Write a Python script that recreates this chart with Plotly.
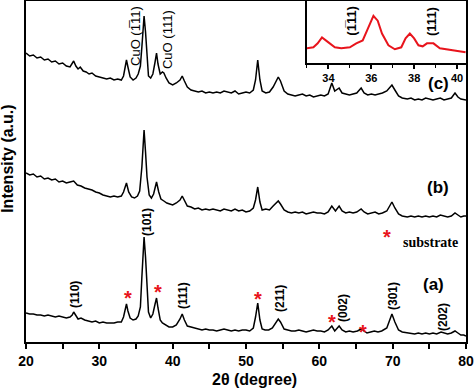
import plotly.graph_objects as go

# ---------------- data ----------------
# pattern (c)
c_x = [20.0,20.5,21.0,21.5,22.0,22.5,23.0,23.5,24.0,24.5,25.0,25.5,26.0,26.3,26.5,26.8,27.1,27.4,27.8,28.2,
       28.6,29.0,29.5,30.0,30.5,31.0,31.5,32.0,32.5,33.0,33.3,33.5,33.7,33.9,34.2,34.6,35.0,35.3,35.6,35.8,
       36.0,36.1,36.3,36.5,36.7,37.0,37.3,37.6,37.8,38.0,38.3,38.6,38.8,39.1,39.5,40.0,40.5,41.0,41.3,41.6,
       42.0,42.5,43.0,43.5,44.0,44.5,45.0,45.5,46.0,46.5,47.0,47.5,48.0,48.5,49.0,49.5,50.0,50.5,51.0,51.3,
       51.6,51.9,52.2,52.7,53.2,53.7,54.2,54.4,54.7,55.2,55.7,56.2,56.7,57.2,57.7,58.2,58.7,59.2,59.7,60.2,
       60.7,61.2,61.7,62.1,62.7,63.1,63.6,64.1,64.6,65.1,65.7,66.1,66.6,67.1,67.6,68.1,68.6,69.2,69.6,69.9,
       70.3,70.8,71.3,72.0,72.5,73.0,73.5,74.0,74.5,75.0,75.5,76.0,76.5,77.0,77.5,78.0,78.5,78.9,79.3,79.7,80.0]
c_y = [289,286,287,284,285,282,283,280,281,278,279,276,275,278,281,276,273,275,271,270,
       268,269,266,265,264,263,264,262,263,262,266,273,282,275,265,262,264,268,276,295,
       322,326,310,285,266,264,268,280,289,278,268,270,269,264,259,257,259,262,266,261,
       255,252,251,250,251,249,250,249,250,249,251,250,249,251,248,249,250,249,252,262,
       282,262,251,249,250,255,263,265,261,251,248,247,246,247,248,246,247,245,246,247,
       246,248,259,251,254,249,248,247,248,249,254,249,247,248,247,248,249,251,254,257,
       252,246,244,243,244,242,243,242,244,243,242,243,244,242,243,244,249,245,243,242,242]

# pattern (b)
b_x = [20.0,20.5,21.0,21.5,22.0,22.5,23.0,23.5,24.0,24.5,25.0,25.5,26.0,26.5,27.0,27.5,28.0,28.5,29.0,29.5,
       30.0,30.5,31.0,31.5,32.0,32.5,33.0,33.3,33.7,34.0,34.4,34.8,35.2,35.5,35.8,36.0,36.1,36.3,36.5,36.8,
       37.1,37.4,37.8,38.1,38.4,38.8,39.2,39.6,40.0,40.5,41.0,41.3,41.6,42.0,42.5,43.0,43.5,44.0,44.5,45.0,
       45.5,46.0,46.5,47.0,47.5,48.0,48.5,49.0,49.5,50.0,50.5,51.0,51.3,51.6,51.9,52.2,52.7,53.2,53.7,54.2,
       54.4,54.7,55.2,55.7,56.2,56.7,57.2,57.7,58.2,58.7,59.2,59.7,60.2,60.7,61.2,61.7,62.2,62.7,63.1,63.6,
       64.1,64.6,65.1,65.7,66.1,66.6,67.1,67.6,68.1,68.6,69.2,69.6,69.9,70.3,70.8,71.3,72.0,72.5,73.0,73.5,
       74.0,74.5,75.0,75.5,76.0,76.5,77.0,77.5,78.0,78.5,78.9,79.3,79.7,80.0]
b_y = [169,167,168,165,166,163,164,162,163,160,161,159,160,161,157,156,154,153,152,150,
       149,147,146,145,146,145,146,150,159,150,145,144,146,151,175,205,212,190,165,147,
       144,148,160,150,143,141,139,138,137,139,142,146,141,136,135,133,134,132,133,132,
       133,132,131,133,132,131,133,131,132,130,131,134,142,155,140,132,133,132,136,140,
       141,138,132,130,129,130,129,130,128,129,130,129,129,128,130,136,131,136,131,129,
       130,129,130,133,130,128,129,130,128,129,131,136,140,134,128,126,125,126,125,126,
       125,126,125,126,125,127,126,125,126,129,127,125,126,126]

# pattern (a)
a_x = [20.0,20.5,21.0,21.5,22.0,22.5,23.0,23.5,24.0,24.5,25.0,25.5,26.0,26.3,26.5,26.8,27.1,27.5,28.0,28.5,
       29.0,29.5,30.0,30.5,31.0,31.5,32.0,32.5,33.0,33.3,33.5,33.7,33.9,34.2,34.6,35.0,35.3,35.6,35.8,36.0,
       36.1,36.3,36.5,36.7,37.0,37.3,37.6,37.8,38.0,38.3,38.6,39.0,39.5,40.0,40.5,41.0,41.3,41.6,42.0,42.5,
       43.0,43.5,44.0,44.5,45.0,45.5,46.0,46.5,47.0,47.5,48.0,48.5,49.0,49.5,50.0,50.5,51.0,51.3,51.6,51.9,
       52.2,52.6,53.1,53.6,54.1,54.4,54.7,55.2,55.7,56.2,56.7,57.2,57.7,58.2,58.7,59.2,59.7,60.2,60.7,61.2,
       61.7,62.1,62.7,63.1,63.6,64.1,64.6,65.2,65.7,66.1,66.5,67.0,67.5,68.0,68.5,69.2,69.6,69.9,70.3,70.8,
       71.3,72.0,72.5,73.0,73.5,74.0,74.5,75.0,75.5,76.0,76.6,77.0,77.5,78.0,78.5,78.9,79.3,79.7,80.0]
a_y = [29,28,28,27,27,26,27,26,25,26,25,24,25,27,30,26,23,24,22,21,
       20,21,19,20,19,19,19,20,20,25,32,38,31,24,22,23,26,35,65,98,
       105,85,50,30,24,28,38,44,34,22,19,17,15,15,17,23,28,22,16,15,
       14,13,12,13,12,12,11,12,13,12,11,12,11,12,12,11,14,25,39,22,
       13,12,12,14,19,23,20,13,12,11,11,12,11,10,11,12,11,11,10,12,
       16,11,16,12,10,11,10,11,13,11,9,10,11,10,11,14,22,28,20,12,
       10,9,9,8,9,8,9,8,9,8,10,9,8,9,11,9,7,7,6]

# inset (red) pattern
ins_x = [33.0,33.3,33.5,33.7,34.0,34.3,34.6,35.0,35.3,35.6,35.8,36.1,36.3,36.5,36.8,37.1,37.4,37.6,37.8,38.0,
         38.2,38.4,38.6,38.9,39.2,39.5,39.8,40.1,40.4]
ins_y = [15,16,20,26,21,16,15,16,20,23,33,48,43,30,18,14,16,25,30,25,
         18,17,20,20,15,14,13,12,11]

x_ticks = [20, 30, 40, 50, 60, 70, 80]
inset_ticks = [34, 36, 38, 40]

# label texts and positions (2θ, intensity)
hkl_labels = ["(110)", "(101)", "(111)", "(211)", "(002)", "(301)", "(202)"]
hkl_x = [26.68, 36.5, 41.41, 54.64, 63.23, 70.05, 76.86]
hkl_y = [48, 120, 46, 43, 34, 46, 25]
star_x = [33.91, 38.0, 51.64, 61.73, 65.95]
star_y = [49, 55, 48, 25, 15]

FONT = "Liberation Sans, Arial, sans-serif"
BAR1 = "1\u0305"  # 1 with overline

fig = go.Figure()
for xs, ys in [(c_x, c_y), (b_x, b_y), (a_x, a_y)]:
    fig.add_trace(go.Scatter(x=xs, y=ys, mode="lines", line=dict(color="black", width=1.5),
                             showlegend=False, hoverinfo="skip"))
fig.add_trace(go.Scatter(x=ins_x, y=ins_y, mode="lines", line=dict(color="#e8141c", width=2),
                         xaxis="x2", yaxis="y2", showlegend=False, hoverinfo="skip"))

ann = []
for t, x, y in zip(hkl_labels, hkl_x, hkl_y):
    ann.append(dict(x=x, y=y, xref="x", yref="y", text=t, textangle=-90, showarrow=False,
                    font=dict(family=FONT, size=12, color="black", weight="bold")))
for x, y in zip(star_x + [69.23], star_y + [110]):
    ann.append(dict(x=x, y=y, xref="x", yref="y", text="*", showarrow=False, yshift=-5,
                    font=dict(family=FONT, size=20, color="#e8141c", weight="bold")))
ann.append(dict(x=75.1, y=100, xref="x", yref="y", text="substrate", showarrow=False,
                font=dict(family="Liberation Serif, Times New Roman, serif", size=14, color="black", weight="bold")))
ann.append(dict(x=34.86, y=306, xref="x", yref="y", text="CuO (" + BAR1 + "11)", textangle=-90,
                showarrow=False, font=dict(family=FONT, size=13, color="black")))
ann.append(dict(x=39.23, y=302, xref="x", yref="y", text="CuO (111)", textangle=-90,
                showarrow=False, font=dict(family=FONT, size=13, color="black")))
for t, x, y in [("(a)", 75.5, 58), ("(b)", 76.2, 155), ("(c)", 76.2, 259)]:
    ann.append(dict(x=x, y=y, xref="x", yref="y", text=t, showarrow=False,
                    font=dict(family=FONT, size=17, color="black", weight="bold")))
# inset labels
ann.append(dict(x=35.1, y=43, xref="x2", yref="y2", text="(" + BAR1 + "11)", textangle=-90, showarrow=False,
                font=dict(family=FONT, size=13, color="black", weight="bold")))
ann.append(dict(x=38.8, y=42, xref="x2", yref="y2", text="(111)", textangle=-90, showarrow=False,
                font=dict(family=FONT, size=13, color="black", weight="bold")))
# axis titles
ann.append(dict(x=-0.041, y=0.537, xref="paper", yref="paper", text="Intensity (a.u.)", textangle=-90,
                xanchor="center", yanchor="middle",
                showarrow=False, font=dict(family=FONT, size=16, color="black", weight="bold")))
ann.append(dict(x=0.52, y=-0.111, xref="paper", yref="paper", text="2\u03b8 (degree)",
                xanchor="center", yanchor="middle",
                showarrow=False, font=dict(family=FONT, size=16, color="black", weight="bold")))

fig.update_layout(
    width=474, height=389,
    margin=dict(l=26, r=8, t=1, b=47, autoexpand=False),
    paper_bgcolor="white", plot_bgcolor="white",
    annotations=ann,
    xaxis=dict(range=[20, 80], tickvals=x_ticks, ticks="outside", ticklen=5, tickwidth=1.5,
               tickcolor="black", showline=True, mirror=True, linecolor="black", linewidth=2,
               showgrid=False, zeroline=False, automargin=False,
               minor=dict(dtick=5, ticks="outside", ticklen=5, tickwidth=1.5, tickcolor="black", showgrid=False),
               tickfont=dict(family=FONT, size=14, color="black", weight="bold")),
    yaxis=dict(range=[0, 341], showticklabels=False, ticks="", showline=True, mirror=True,
               linecolor="black", linewidth=2, showgrid=False, zeroline=False, automargin=False),
    xaxis2=dict(domain=[0.6386, 1], anchor="y2", range=[33, 40.42], tickvals=inset_ticks,
                ticks="outside", ticklen=4, tickwidth=1.5, tickcolor="black", automargin=False,
                showline=True, mirror=True, linecolor="black", linewidth=1.5, showgrid=False, zeroline=False,
                minor=dict(dtick=1, ticks="outside", ticklen=3, tickwidth=1, tickcolor="black", showgrid=False),
                tickfont=dict(family=FONT, size=11, color="black", weight="bold")),
    yaxis2=dict(domain=[0.818, 1], anchor="x2", range=[0, 63], showticklabels=False, ticks="",
                automargin=False,
                showline=True, mirror=True, linecolor="black", linewidth=1.5, showgrid=False, zeroline=False),
)

fig.write_html("out.html", config={"displayModeBar": False},
               post_script="document.body.style.margin='0';document.body.style.overflow='hidden';")
